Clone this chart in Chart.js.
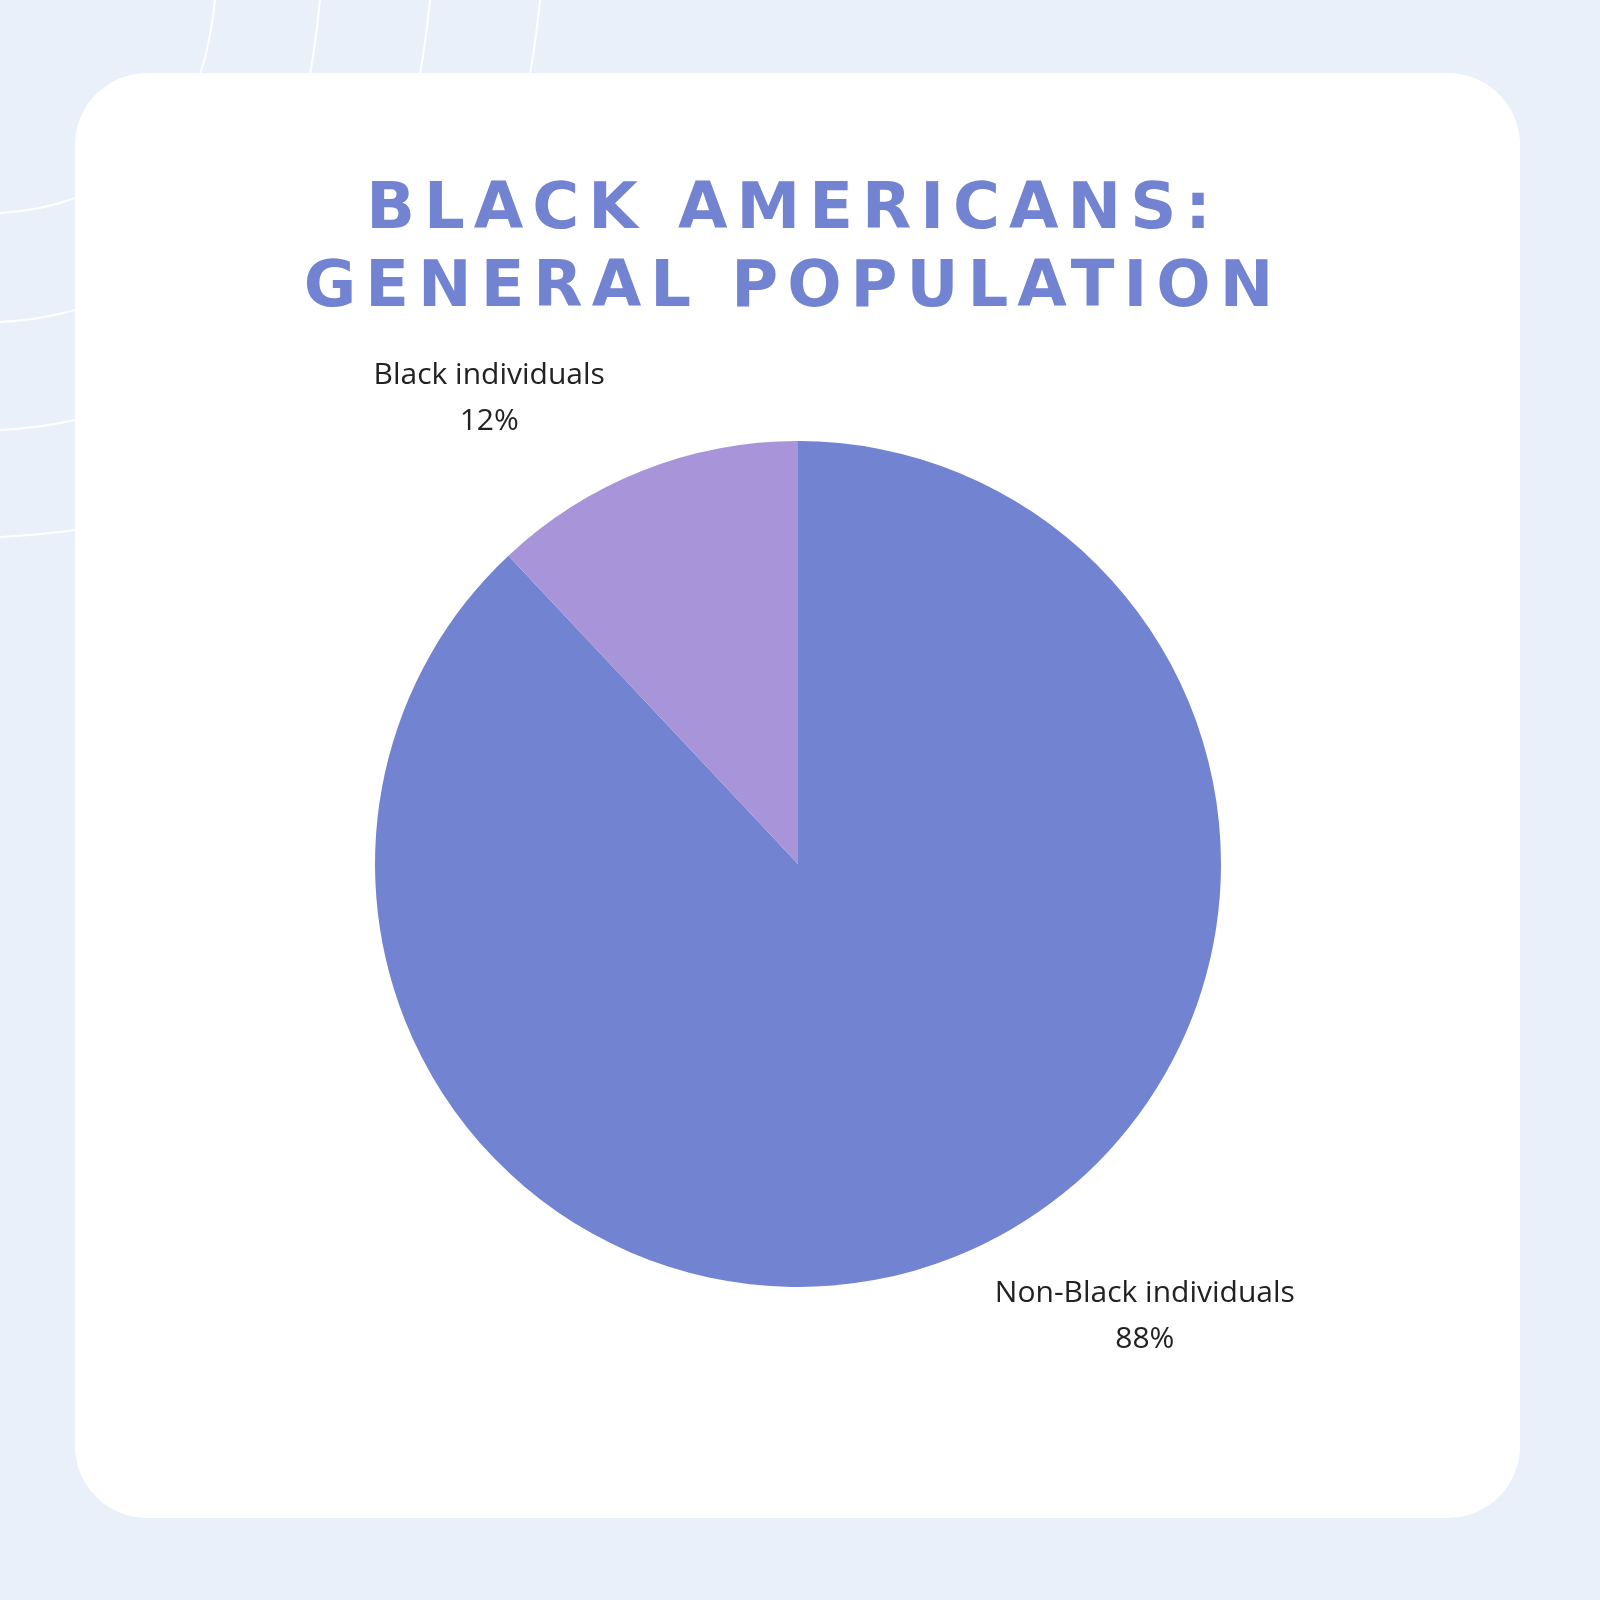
<!DOCTYPE html>
<html><head><meta charset="utf-8">
<script src="https://cdn.jsdelivr.net/npm/chart.js@4"></script>
<style>html,body{margin:0;padding:0;background:#EAF0FA;}canvas{display:block;}</style>
</head><body>
<canvas id="c" width="1600" height="1600"></canvas>
<script>
const categories = ["Non-Black individuals", "Black individuals"];
const values = [88, 12];
const colors = ["#7283D2", "#A894D8"];
const titleLines = ["BLACK AMERICANS:", "GENERAL POPULATION"];
const labelOffsets = [[0.82, 1.07], [-0.73, -1.10]];

function rr(ctx,x,y,w,h,r){ctx.beginPath();ctx.moveTo(x+r,y);ctx.arcTo(x+w,y,x+w,y+h,r);ctx.arcTo(x+w,y+h,x,y+h,r);ctx.arcTo(x,y+h,x,y,r);ctx.arcTo(x,y,x+w,y,r);ctx.closePath();}

const bg = {id:'bg', beforeDraw(chart){
  const ctx=chart.ctx; ctx.save();
  ctx.fillStyle='#EAF0FA'; ctx.fillRect(0,0,1600,1600);
  ctx.strokeStyle='rgba(255,255,255,0.9)'; ctx.lineWidth=2;
  [[215,0,200,75],[320,0,310,75],[430,0,420,75],[540,0,530,75]].forEach(a=>{ctx.beginPath();ctx.moveTo(a[0],a[1]);ctx.quadraticCurveTo(a[0]-4,40,a[2],a[3]);ctx.stroke();});
  [[0,213,75,198],[0,322,75,310],[0,430,75,420],[0,537,75,530]].forEach(a=>{ctx.beginPath();ctx.moveTo(a[0],a[1]);ctx.quadraticCurveTo(40,a[1]-2,a[2],a[3]);ctx.stroke();});
  ctx.fillStyle='#FFFFFF'; rr(ctx,75,73,1445,1445,72); ctx.fill();
  ctx.fillStyle='#7283D2'; ctx.font='bold 64px "DejaVu Sans", sans-serif';
  ctx.letterSpacing='9px'; ctx.textAlign='center'; ctx.textBaseline='alphabetic';
  ctx.fillText(titleLines[0], 793, 228);
  ctx.fillText(titleLines[1], 793, 306);
  ctx.restore();
}};
const labels = {id:'lbl', afterDatasetsDraw(chart){
  const ctx=chart.ctx; ctx.save();
  ctx.fillStyle='#222'; ctx.font='30px "Open Sans", sans-serif'; ctx.textAlign='center'; ctx.textBaseline='middle';
  chart.getDatasetMeta(0).data.forEach((arc,i)=>{
    const x=arc.x+arc.outerRadius*labelOffsets[i][0], y=arc.y+arc.outerRadius*labelOffsets[i][1];
    ctx.fillText(categories[i], x, y-23);
    ctx.fillText(values[i]+'%', x, y+23);
  });
  ctx.restore();
}};
new Chart(document.getElementById('c'), {
  type:'pie',
  data:{labels:categories, datasets:[{data:values, backgroundColor:colors, borderWidth:0}]},
  options:{responsive:false, devicePixelRatio:1, animation:false,
    layout:{padding:{left:375,right:379,top:441,bottom:313}},
    plugins:{legend:{display:false}, tooltip:{enabled:false}}},
  plugins:[bg, labels]
});
</script>
</body></html>
